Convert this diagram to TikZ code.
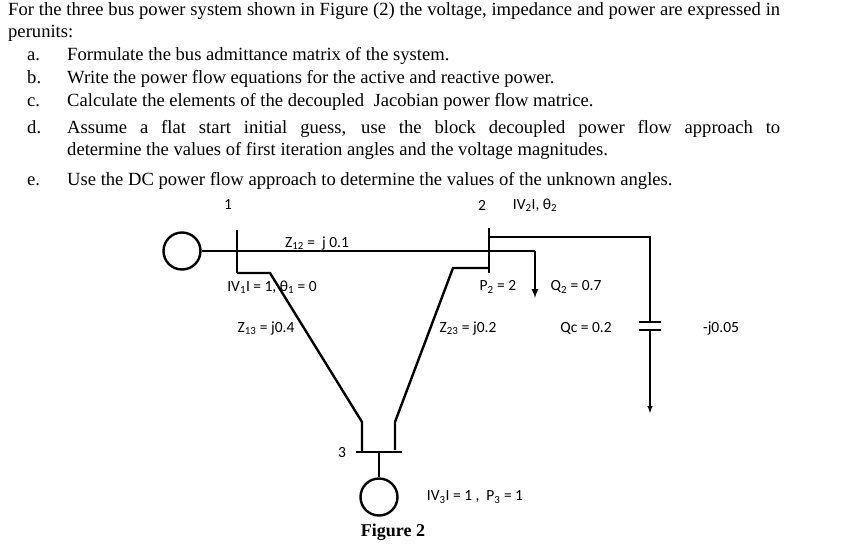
\documentclass[tikz,border=0pt]{standalone}
\usepackage{fontspec}
\setmainfont{Liberation Serif}
\newfontfamily\lblfont{Carlito}
\usetikzlibrary{arrows,shapes}
\begin{document}
\begin{tikzpicture}[x=1pt,y=-1pt]
				\tikzstyle{arrow}=[draw, -latex, line width=1.4pt]
				\tikzstyle{wire}=[draw, line width=2.4pt]
				\tikzstyle{gen}=[draw, circle, line width=2.4pt, minimum width=37pt, inner sep=0pt]
				\tikzstyle{lbl}=[font=\lblfont\fontsize{15.5}{17}\selectfont, inner sep=0pt]
				\tikzstyle{para}=[font=\fontsize{18.6}{22.5}\selectfont, align=justify, inner sep=0pt, anchor=base west]
				\newcommand\sub[1]{\textsubscript{#1}}
				\useasboundingbox (0,0) rectangle (852,552);

				 % Question text
				\node [para, text width=772pt] at (8,15) (intro) {For the three bus power system shown in Figure (2) the voltage, impedance and power are expressed in perunits:};
				\node [para] at (27,60) (qa) {a.};
				\node [para, text width=713pt] at (67,60) (ta) {Formulate the bus admittance matrix of the system.};
				\node [para] at (27,83) (qb) {b.};
				\node [para, text width=713pt] at (67,83) (tb) {Write the power flow equations for the active and reactive power.};
				\node [para] at (27,106) (qc) {c.};
				\node [para, text width=713pt] at (67,106) (tc) {Calculate the elements of the decoupled\ \ Jacobian power flow matrice.};
				\node [para] at (27,133) (qd) {d.};
				\node [para, text width=713pt] at (67,133) (td) {Assume a flat start initial guess, use the block decoupled power flow approach to\linebreak determine the values of first iteration angles and the voltage magnitudes.};
				\node [para] at (27,185) (qe) {e.};
				\node [para, text width=713pt] at (67,185) (te) {Use the DC power flow approach to determine the values of the unknown angles.};

				 % Generators
				\node [gen] at (182,251) (gA) {};
				\node [gen] at (379,497) (gC) {};

				 % Bus bars
				\coordinate (b1top) at (237,230);
				\coordinate (b1bot) at (237,273);
				\coordinate (b2top) at (489,228);
				\coordinate (b2bot) at (489,273);
				\coordinate (b3l) at (356,452);
				\coordinate (b3r) at (402,452);
				\coordinate (b3mid) at (379,452);
				\path [wire] (b1top) -- (b1bot);
				\path [wire] (b2top) -- (b2bot);
				\path [wire] (b3l) -- (b3r);
				\path [wire] (b3mid) -- (gC.north);

				 % Line 1-2 and load at bus 2
				\coordinate (ld) at (535,251);
				\coordinate (ldend) at (535,298);
				\path [wire] (gA.east) -- (ld);
				\path [arrow, line width=2pt] (ld) -- (ldend);

				 % Line 1-3
				\coordinate (k13a) at (270,273);
				\coordinate (k13b) at (362,422);
				\coordinate (b3a) at (362,452);
				\path [wire] (b1bot) -- (k13a) -- (k13b) -- (b3a);

				 % Line 2-3
				\coordinate (t2) at (489,268);
				\coordinate (k23a) at (453,268);
				\coordinate (k23b) at (395,422);
				\coordinate (b3b) at (395,450);
				\path [wire] (t2) -- (k23a) -- (k23b) -- (b3b);

				 % Capacitor branch
				\coordinate (c0) at (489,237);
				\coordinate (c1) at (650,237);
				\coordinate (c2) at (650,322);
				\coordinate (c3) at (650,330);
				\coordinate (cend) at (650,413);
				\coordinate (p1l) at (639,322);
				\coordinate (p1r) at (661,322);
				\coordinate (p2l) at (639,330);
				\coordinate (p2r) at (661,330);
				\path [wire] (c0) -- (c1) -- (c2);
				\path [wire] (p1l) -- (p1r);
				\path [wire] (p2l) -- (p2r);
				\path [arrow] (c3) -- (cend);

				 % Labels
				\node [lbl] at (228,205) (n1) {1};
				\node [lbl] at (482,205) (n2) {2};
				\node [lbl] at (535,205) (v2) {IV\sub{2}I, θ\sub{2}};
				\node [lbl] at (317,243) (z12) {Z\sub{12} =\ \ j 0.1};
				\node [lbl] at (272,287) (v1) {IV\sub{1}I = 1, θ\sub{1} = 0};
				\node [lbl] at (498,287) (p2) {P\sub{2} = 2};
				\node [lbl] at (576,287) (q2) {Q\sub{2} = 0.7};
				\node [lbl] at (266,328) (z13) {Z\sub{13} = j0.4};
				\node [lbl] at (468,328) (z23) {Z\sub{23} = j0.2};
				\node [lbl] at (586,328) (qcap) {Qc = 0.2};
				\node [lbl] at (721,328) (xc) {-j0.05};
				\node [lbl] at (342,453) (n3) {3};
				\node [lbl] at (475,497) (v3) {IV\sub{3}I = 1 ,\ \ P\sub{3} = 1};
				\node [font=\bfseries\fontsize{18}{20}\selectfont, inner sep=0pt] at (393,532) (fig) {Figure 2};
\end{tikzpicture}
\end{document}
